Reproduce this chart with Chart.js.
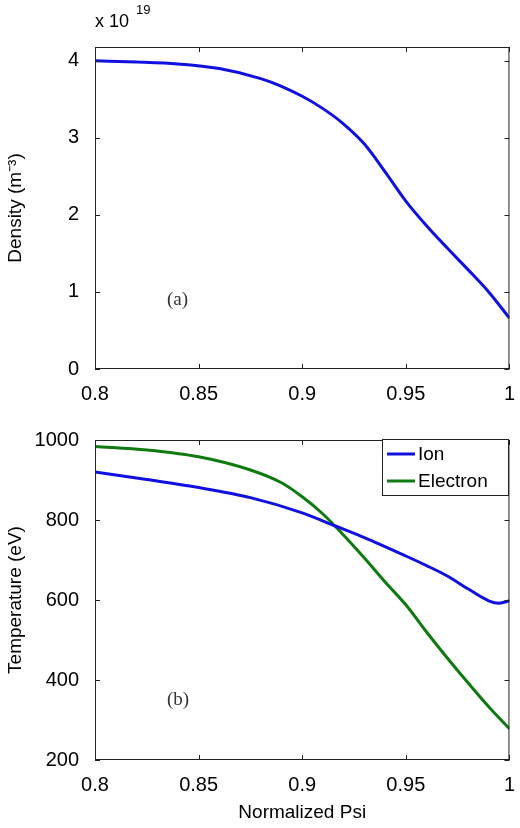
<!DOCTYPE html>
<html>
<head>
<meta charset="utf-8">
<script src="https://cdn.jsdelivr.net/npm/chart.js@4"></script>
<style>
  body { margin: 0; background: #fff; width: 520px; height: 828px; overflow: hidden; }
  .box { position: absolute; left: 0; width: 520px; }
</style>
</head>
<body>
<div class="box" style="top:0;height:410px"><canvas id="densityChart"></canvas></div>
<div class="box" style="top:420px;height:408px"><canvas id="tempChart"></canvas></div>
<script>
// Panel (a): density, units of 1e19 m^-3
const densityPsi = [0.80, 0.82, 0.84, 0.86, 0.88, 0.89, 0.90, 0.91, 0.92, 0.93, 0.94, 0.95, 0.96, 0.97, 0.98, 0.99, 1.0];
const densityVals = [4.0, 3.985, 3.96, 3.90, 3.77, 3.67, 3.54, 3.38, 3.18, 2.92, 2.56, 2.18, 1.86, 1.57, 1.29, 1.0, 0.66];

// Panel (b): temperature, eV
const ionPsi = [0.80, 0.825, 0.85, 0.875, 0.90, 0.916, 0.93, 0.95, 0.96, 0.97, 0.98, 0.99, 0.995, 1.0];
const ionVals = [920, 901, 881, 856, 818, 785, 756, 710, 686, 660, 628, 598, 592, 598];
const elecPsi = [0.80, 0.825, 0.85, 0.875, 0.89, 0.90, 0.91, 0.92, 0.93, 0.94, 0.95, 0.96, 0.97, 0.98, 0.99, 1.0];
const elecVals = [984, 975, 958, 925, 893, 858, 815, 762, 705, 645, 588, 520, 455, 393, 333, 278];

const xTicks = [0.8, 0.85, 0.9, 0.95, 1];
const densityTicks = [0, 1, 2, 3, 4];
const tempTicks = [200, 400, 600, 800, 1000];

const FONT = 'Liberation Sans, Arial, sans-serif';

function pts(xs, ys) {
    return xs.map((x, i) => ({ x: x, y: ys[i] }));
}

// frame with inward ticks on all four sides, plus extra text
function framePlugin(extra) {
    return {
        id: 'frame',
        afterDraw(chart) {
            const ctx = chart.ctx;
            const a = chart.chartArea;
            const xs = chart.scales.x, ys = chart.scales.y;
            ctx.save();
            ctx.strokeStyle = '#222';
            ctx.lineWidth = 1;
            ctx.strokeRect(a.left + 0.5, a.top + 0.5, a.right - a.left - 1, a.bottom - a.top - 1);
            ctx.beginPath();
            xs.ticks.forEach(t => {
                const p = Math.round(xs.getPixelForValue(t.value)) + 0.5;
                ctx.moveTo(p, a.bottom); ctx.lineTo(p, a.bottom - 5);
                ctx.moveTo(p, a.top); ctx.lineTo(p, a.top + 5);
            });
            ys.ticks.forEach(t => {
                const p = Math.round(ys.getPixelForValue(t.value)) + 0.5;
                ctx.moveTo(a.left, p); ctx.lineTo(a.left + 5, p);
                ctx.moveTo(a.right, p); ctx.lineTo(a.right - 5, p);
            });
            ctx.stroke();
            ctx.restore();
            extra(chart, ctx);
        }
    };
}

function baseOptions(yMin, yMax, yTickVals, yTitle, xTitle, padTop, xHeight) {
    return {
        responsive: true,
        maintainAspectRatio: false,
        animation: false,
        layout: { padding: { top: padTop, right: 7, left: 0, bottom: 0 } },
        plugins: { legend: { display: false }, tooltip: { enabled: false } },
        elements: { point: { radius: 0 }, line: { borderWidth: 3, cubicInterpolationMode: 'monotone' } },
        scales: {
            x: {
                type: 'linear', min: 0.8, max: 1,
                grid: { display: false },
                border: { display: false },
                afterBuildTicks: s => { s.ticks = xTicks.map(v => ({ value: v })); },
                afterFit: s => { s.height = xHeight; },
                ticks: { color: '#000', font: { family: FONT, size: 20 }, padding: 5,
                         callback: v => String(v) },
                title: { display: !!xTitle, text: xTitle, color: '#000',
                         font: { family: FONT, size: 19 }, padding: { top: 0 } }
            },
            y: {
                type: 'linear', min: yMin, max: yMax,
                grid: { display: false },
                border: { display: false },
                afterBuildTicks: s => { s.ticks = yTickVals.map(v => ({ value: v })); },
                afterFit: s => { s.width = 95; },
                ticks: { color: '#000', font: { family: FONT, size: 20 }, padding: 8,
                         callback: v => String(v) },
                title: { display: true, text: yTitle, color: '#000',
                         font: { family: FONT, size: 19 }, padding: { bottom: 2 } }
            }
        }
    };
}

new Chart(document.getElementById('densityChart'), {
    type: 'line',
    data: { datasets: [{ label: 'Density', data: pts(densityPsi, densityVals), borderColor: '#1010e0' }] },
    options: baseOptions(0, 4.18, densityTicks, 'Density (m\u207B\u00B3)', '', 47, 41),
    plugins: [framePlugin((chart, ctx) => {
        ctx.save();
        ctx.fillStyle = '#000';
        ctx.font = '18px ' + FONT;
        ctx.textBaseline = 'alphabetic';
        ctx.fillText('x 10', 95, 27);
        ctx.font = '13px ' + FONT;
        ctx.fillText('19', 136, 14);
        ctx.font = '19px "Liberation Serif", serif';
        ctx.fillStyle = '#333';
        ctx.fillText('(a)', 167, 305);
        ctx.restore();
    })]
});

new Chart(document.getElementById('tempChart'), {
    type: 'line',
    data: { datasets: [
        { label: 'Ion', data: pts(ionPsi, ionVals), borderColor: '#1010e0' },
        { label: 'Electron', data: pts(elecPsi, elecVals), borderColor: '#0f7a10' }
    ] },
    options: baseOptions(200, 1000, tempTicks, 'Temperature (eV)', 'Normalized Psi', 15, 68),
    plugins: [framePlugin((chart, ctx) => {
        ctx.save();
        // (b) label
        ctx.font = '19px "Liberation Serif", serif';
        ctx.fillStyle = '#333';
        ctx.fillText('(b)', 167, 285);
        // legend box
        const lx = 382, ly = 19, lw = 126, lh = 56;
        ctx.fillStyle = '#fff';
        ctx.fillRect(lx, ly, lw, lh);
        ctx.strokeStyle = '#222';
        ctx.lineWidth = 1;
        ctx.strokeRect(lx + 0.5, ly + 0.5, lw, lh);
        ctx.font = '19px ' + FONT;
        ctx.textBaseline = 'middle';
        chart.data.datasets.forEach((ds, i) => {
            const y = ly + 15 + i * 27;
            ctx.strokeStyle = ds.borderColor;
            ctx.lineWidth = 3;
            ctx.beginPath();
            ctx.moveTo(lx + 5, y); ctx.lineTo(lx + 33, y);
            ctx.stroke();
            ctx.fillStyle = '#000';
            ctx.fillText(ds.label, lx + 36, y + 1);
        });
        ctx.restore();
    })]
});
</script>
</body>
</html>
